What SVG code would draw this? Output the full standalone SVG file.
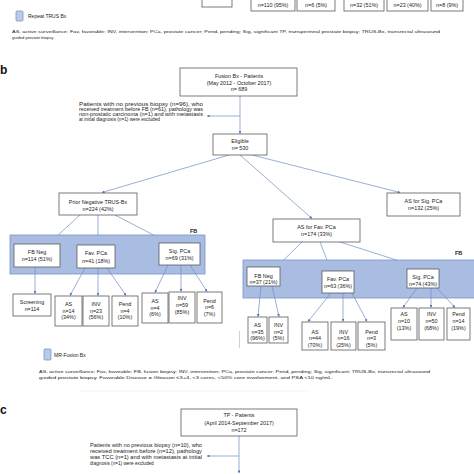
<svg xmlns="http://www.w3.org/2000/svg" width="474" height="474" viewBox="0 0 474 474">
<style>
.bx{fill:#fff;stroke:#5a5a5a;stroke-width:0.8}
.band{fill:#a9bde2;stroke:#7b94c8;stroke-width:0.8}
.lg{fill:#b9cbea;stroke:#6f89c0;stroke-width:0.7}
.t{font-family:"Liberation Sans",Arial,sans-serif;font-size:5.4px;fill:#222;text-anchor:middle}
.s{font-family:"Liberation Sans",Arial,sans-serif;font-size:4.7px;fill:#222}
.a{font-family:"Liberation Sans",Arial,sans-serif;font-size:4.1px;fill:#222}
.fb{font-family:"Liberation Sans",Arial,sans-serif;font-size:5.5px;font-weight:bold;fill:#222}
.lbl{font-family:"Liberation Sans",Arial,sans-serif;font-size:12px;font-weight:bold;fill:#111}
.c line{stroke:#6d8cc6;stroke-width:0.7;marker-end:url(#ah)}
</style>
<defs>
<marker id="ah" viewBox="0 0 6 6" refX="5.5" refY="3" markerWidth="4" markerHeight="4" orient="auto" markerUnits="strokeWidth">
<path d="M0,0 L6,3 L0,6 z" fill="#4f73b8"/>
</marker>
</defs>
<rect width="474" height="474" fill="#fff"/>

<!-- top partial panel -->
<g id="top-partial">
<rect class="bx" x="202" y="-3" width="30" height="10"/>
<rect class="bx" x="251" y="-3" width="44" height="14"/><text class="t" x="273" y="7">n=110 (95%)</text>
<rect class="bx" x="297" y="-3" width="38" height="14"/><text class="t" x="316" y="7">n=6 (5%)</text>
<rect class="bx" x="344" y="-3" width="40" height="14"/><text class="t" x="364" y="7">n=32 (51%)</text>
<rect class="bx" x="387" y="-3" width="41" height="14"/><text class="t" x="407.5" y="7">n=23 (40%)</text>
<rect class="bx" x="431" y="-3" width="32" height="14"/><text class="t" x="447" y="7">n=8 (9%)</text>
</g>
<g id="legend-a">
<rect class="lg" x="16" y="11" width="7" height="10" rx="1"/>
<text class="s" x="28" y="18" style="font-size:5px">Repeat TRUS Bx</text>
<text class="a" x="12" y="33" textLength="428" lengthAdjust="spacingAndGlyphs">AS, active surveillance; Fav, favorable; INV, intervention; PCa, prostate cancer; Pend, pending; Sig, significant TP, transperineal prostate biopsy; TRUS-Bx, transrectal ultrasound</text>
<text class="a" x="12" y="39">guided prostate biopsy.</text>
</g>

<!-- panel b -->
<text class="lbl" x="0" y="74">b</text>

<g class="c" id="connectors-b">
<line x1="240" y1="96" x2="240" y2="133.5"/>
<line x1="240" y1="116" x2="207" y2="116"/>
<line x1="229" y1="155" x2="102" y2="192.5"/>
<line x1="240" y1="155" x2="312" y2="218.5"/>
<line x1="252" y1="155" x2="400" y2="192.5"/>
<line x1="80" y1="215" x2="49" y2="243.5"/>
<line x1="98" y1="215" x2="98" y2="244.5"/>
<line x1="115" y1="215" x2="168" y2="242.5"/>
<line x1="302" y1="242" x2="277" y2="266.5"/>
<line x1="320" y1="242" x2="331" y2="270.5"/>
<line x1="340" y1="242" x2="423" y2="268.5"/>
</g>

<g id="band-left"><rect class="band" x="10" y="235" width="195" height="39"/><text class="fb" x="190" y="233">FB</text></g>
<g id="band-right"><rect class="band" x="243" y="260" width="240" height="38"/><text class="fb" x="455" y="255">FB</text></g>

<g class="c" id="connectors-b2">
<line x1="35" y1="267" x2="35" y2="293.5"/>
<line x1="85" y1="268" x2="70" y2="295.5"/>
<line x1="98" y1="268" x2="98" y2="295.5"/>
<line x1="107" y1="268" x2="126" y2="295.5"/>
<line x1="168" y1="265" x2="155" y2="292.5"/>
<line x1="181" y1="265" x2="181" y2="291.5"/>
<line x1="190" y1="265" x2="207" y2="291.5"/>
<line x1="261" y1="286" x2="258" y2="316.5"/>
<line x1="272" y1="286" x2="279" y2="316.5"/>
<line x1="331" y1="293" x2="308" y2="321.5"/>
<line x1="343" y1="293" x2="343" y2="321.5"/>
<line x1="352" y1="293" x2="367" y2="321.5"/>
<line x1="417" y1="288" x2="403" y2="307.5"/>
<line x1="431" y1="288" x2="431" y2="307.5"/>
<line x1="437" y1="288" x2="455" y2="307.5"/>
</g>

<g id="fusion"><rect class="bx" x="180" y="68" width="117" height="28"/>
<text class="t" x="239" y="78">Fusion Bx - Patients</text>
<text class="t" x="239" y="84.5">(May 2012 - October 2017)</text>
<text class="t" x="239" y="91">n= 689</text></g>
<g id="excl-b">
<text class="s" x="79" y="105.5" textLength="124" lengthAdjust="spacingAndGlyphs">Patients with no previous biopsy (n=96), who</text>
<text class="s" x="79" y="110.5" textLength="124" lengthAdjust="spacingAndGlyphs">received treatment before FB (n=61), pathology was</text>
<text class="s" x="79" y="115.5" textLength="124" lengthAdjust="spacingAndGlyphs">non-prostatic carcinoma (n=1) and with metastasis</text>
<text class="s" x="79" y="120.5">at initial diagnosis (n=1) were excluded</text>
</g>
<g id="eligible"><rect class="bx" x="213" y="134" width="54" height="21"/>
<text class="t" x="240" y="143">Eligible</text><text class="t" x="240" y="150">n= 530</text></g>
<g id="prior-neg"><rect class="bx" x="59" y="193" width="78" height="22"/>
<text class="t" x="98" y="203.5">Prior Negative TRUS-Bx</text><text class="t" x="98" y="210.5">n=224 (42%)</text></g>
<g id="as-sig"><rect class="bx" x="387" y="193" width="73" height="23"/>
<text class="t" x="423.5" y="202.5">AS for Sig. PCa</text><text class="t" x="423.5" y="209.5">n=132 (25%)</text></g>
<g id="as-fav"><rect class="bx" x="273" y="219" width="87" height="23"/>
<text class="t" x="316.5" y="229">AS for Fav. PCa</text><text class="t" x="316.5" y="236">n=174 (33%)</text></g>

<g id="l-fbneg"><rect class="bx" x="14" y="244" width="46" height="23"/>
<text class="t" x="37" y="253.5">FB Neg</text><text class="t" x="37" y="261">n=114 (51%)</text></g>
<g id="l-fav"><rect class="bx" x="77" y="245" width="38" height="23"/>
<text class="t" x="96" y="255">Fav. PCa</text><text class="t" x="96" y="262.5">n=41 (18%)</text></g>
<g id="l-sig"><rect class="bx" x="159" y="243" width="41" height="22"/>
<text class="t" x="179.5" y="253">Sig. PCa</text><text class="t" x="179.5" y="260">n=69 (31%)</text></g>

<g id="screening"><rect class="bx" x="13" y="294" width="38" height="22"/>
<text class="t" x="32" y="303.5">Screening</text><text class="t" x="32" y="311">n=114</text></g>
<g id="l-fav-as"><rect class="bx" x="55" y="296" width="27" height="30"/>
<text class="t" x="68.5" y="305.5">AS</text><text class="t" x="68.5" y="312.5">n=14</text><text class="t" x="68.5" y="319">(34%)</text></g>
<g id="l-fav-inv"><rect class="bx" x="83" y="296" width="26" height="30"/>
<text class="t" x="96" y="305.5">INV</text><text class="t" x="96" y="312.5">n=23</text><text class="t" x="96" y="319">(56%)</text></g>
<g id="l-fav-pend"><rect class="bx" x="112" y="296" width="26" height="30"/>
<text class="t" x="125" y="305.5">Pend</text><text class="t" x="125" y="312.5">n=4</text><text class="t" x="125" y="319">(10%)</text></g>
<g id="l-sig-as"><rect class="bx" x="142" y="293" width="26" height="30"/>
<text class="t" x="155" y="302.5">AS</text><text class="t" x="155" y="309.5">n=4</text><text class="t" x="155" y="316">(6%)</text></g>
<g id="l-sig-inv"><rect class="bx" x="169" y="292" width="26" height="31"/>
<text class="t" x="182" y="299.5">INV</text><text class="t" x="182" y="306.5">n=59</text><text class="t" x="182" y="313.5">(85%)</text></g>
<g id="l-sig-pend"><rect class="bx" x="197" y="292" width="25" height="31"/>
<text class="t" x="209.5" y="302.5">Pend</text><text class="t" x="209.5" y="309">n=6</text><text class="t" x="209.5" y="316">(7%)</text></g>

<g id="r-fbneg"><rect class="bx" x="247" y="267" width="33" height="19"/>
<text class="t" x="263.5" y="277.8">FB Neg</text><text class="t" x="263.5" y="284">n=37 (21%)</text></g>
<g id="r-fav"><rect class="bx" x="322" y="271" width="32" height="22"/>
<text class="t" x="338" y="281">Fav. PCa</text><text class="t" x="338" y="287.5">n=63 (36%)</text></g>
<g id="r-sig"><rect class="bx" x="407" y="269" width="32" height="19"/>
<text class="t" x="423" y="279">Sig. PCa</text><text class="t" x="423" y="286">n=74 (43%)</text></g>

<g id="r-fb-as"><rect class="bx" x="248" y="317" width="19" height="26"/>
<text class="t" x="257.5" y="326.5">AS</text><text class="t" x="257.5" y="333.5">n=35</text><text class="t" x="257.5" y="340">(96%)</text></g>
<g id="r-fb-inv"><rect class="bx" x="269" y="317" width="19" height="26"/>
<text class="t" x="278.5" y="326.5">INV</text><text class="t" x="278.5" y="333.5">n=2</text><text class="t" x="278.5" y="340">(5%)</text></g>
<g id="r-fav-as"><rect class="bx" x="302" y="322" width="26" height="28"/>
<text class="t" x="315" y="333.5">AS</text><text class="t" x="315" y="340">n=44</text><text class="t" x="315" y="347">(70%)</text></g>
<g id="r-fav-inv"><rect class="bx" x="331" y="322" width="25" height="28"/>
<text class="t" x="343.5" y="333.5">INV</text><text class="t" x="343.5" y="340">n=16</text><text class="t" x="343.5" y="347">(25%)</text></g>
<g id="r-fav-pend"><rect class="bx" x="358" y="322" width="27" height="28"/>
<text class="t" x="371.5" y="333.5">Pend</text><text class="t" x="371.5" y="340">n=3</text><text class="t" x="371.5" y="347">(5%)</text></g>
<g id="r-sig-as"><rect class="bx" x="391" y="308" width="26" height="32"/>
<text class="t" x="404" y="316">AS</text><text class="t" x="404" y="323">n=10</text><text class="t" x="404" y="329.5">(13%)</text></g>
<g id="r-sig-inv"><rect class="bx" x="419" y="308" width="25" height="32"/>
<text class="t" x="431.5" y="316">INV</text><text class="t" x="431.5" y="323">n=50</text><text class="t" x="431.5" y="329.5">(68%)</text></g>
<g id="r-sig-pend"><rect class="bx" x="447" y="308" width="23" height="32"/>
<text class="t" x="458.5" y="316">Pend</text><text class="t" x="458.5" y="323">n=14</text><text class="t" x="458.5" y="329.5">(19%)</text></g>

<line x1="239.5" y1="331" x2="239.5" y2="348" stroke="#b0b0b0" stroke-width="0.6"/>

<g id="legend-b">
<rect class="lg" x="44" y="349" width="7" height="11" rx="1"/>
<text class="s" x="54" y="357" style="font-size:5px">MR-Fusion Bx</text>
<text class="a" x="39" y="373" textLength="391" lengthAdjust="spacingAndGlyphs">AS, active surveillance; Fav, favorable; FB, fusion biopsy; INV, intervention; PCa, prostate cancer; Pend, pending; Sig, significant; TRUS-Bx, transrectal ultrasound</text>
<text class="a" x="39" y="379" textLength="294" lengthAdjust="spacingAndGlyphs">guided prostate biopsy.  Favorable Disease = Gleason ≤3+4, &lt;3 cores, &lt;50% core involvement, and PSA &lt;10 ng/mL.</text>
</g>
<line x1="80" y1="391" x2="310" y2="391" stroke="#eeeeee" stroke-width="0.6"/>

<!-- panel c -->
<text class="lbl" x="0" y="414">c</text>
<g class="c" id="connectors-c">
<line x1="239" y1="436" x2="239" y2="473"/>
<line x1="239" y1="456" x2="207" y2="456"/>
</g>
<g id="tp"><rect class="bx" x="181" y="409" width="116" height="27"/>
<text class="t" x="239" y="417">TP - Patients</text>
<text class="t" x="239" y="424.5">(April 2014-September 2017)</text>
<text class="t" x="239" y="432">n=172</text></g>
<g id="excl-c">
<text class="s" x="90" y="446.5" textLength="112" lengthAdjust="spacingAndGlyphs">Patients with no previous biopsy (n=10), who</text>
<text class="s" x="90" y="452.5" textLength="112" lengthAdjust="spacingAndGlyphs">received treatment before (n=12), pathology</text>
<text class="s" x="90" y="458.5" textLength="112" lengthAdjust="spacingAndGlyphs">was TCC (n=1) and with metastasis at initial</text>
<text class="s" x="90" y="464.5">diagnosis (n=1) were excluded</text>
</g>
</svg>
